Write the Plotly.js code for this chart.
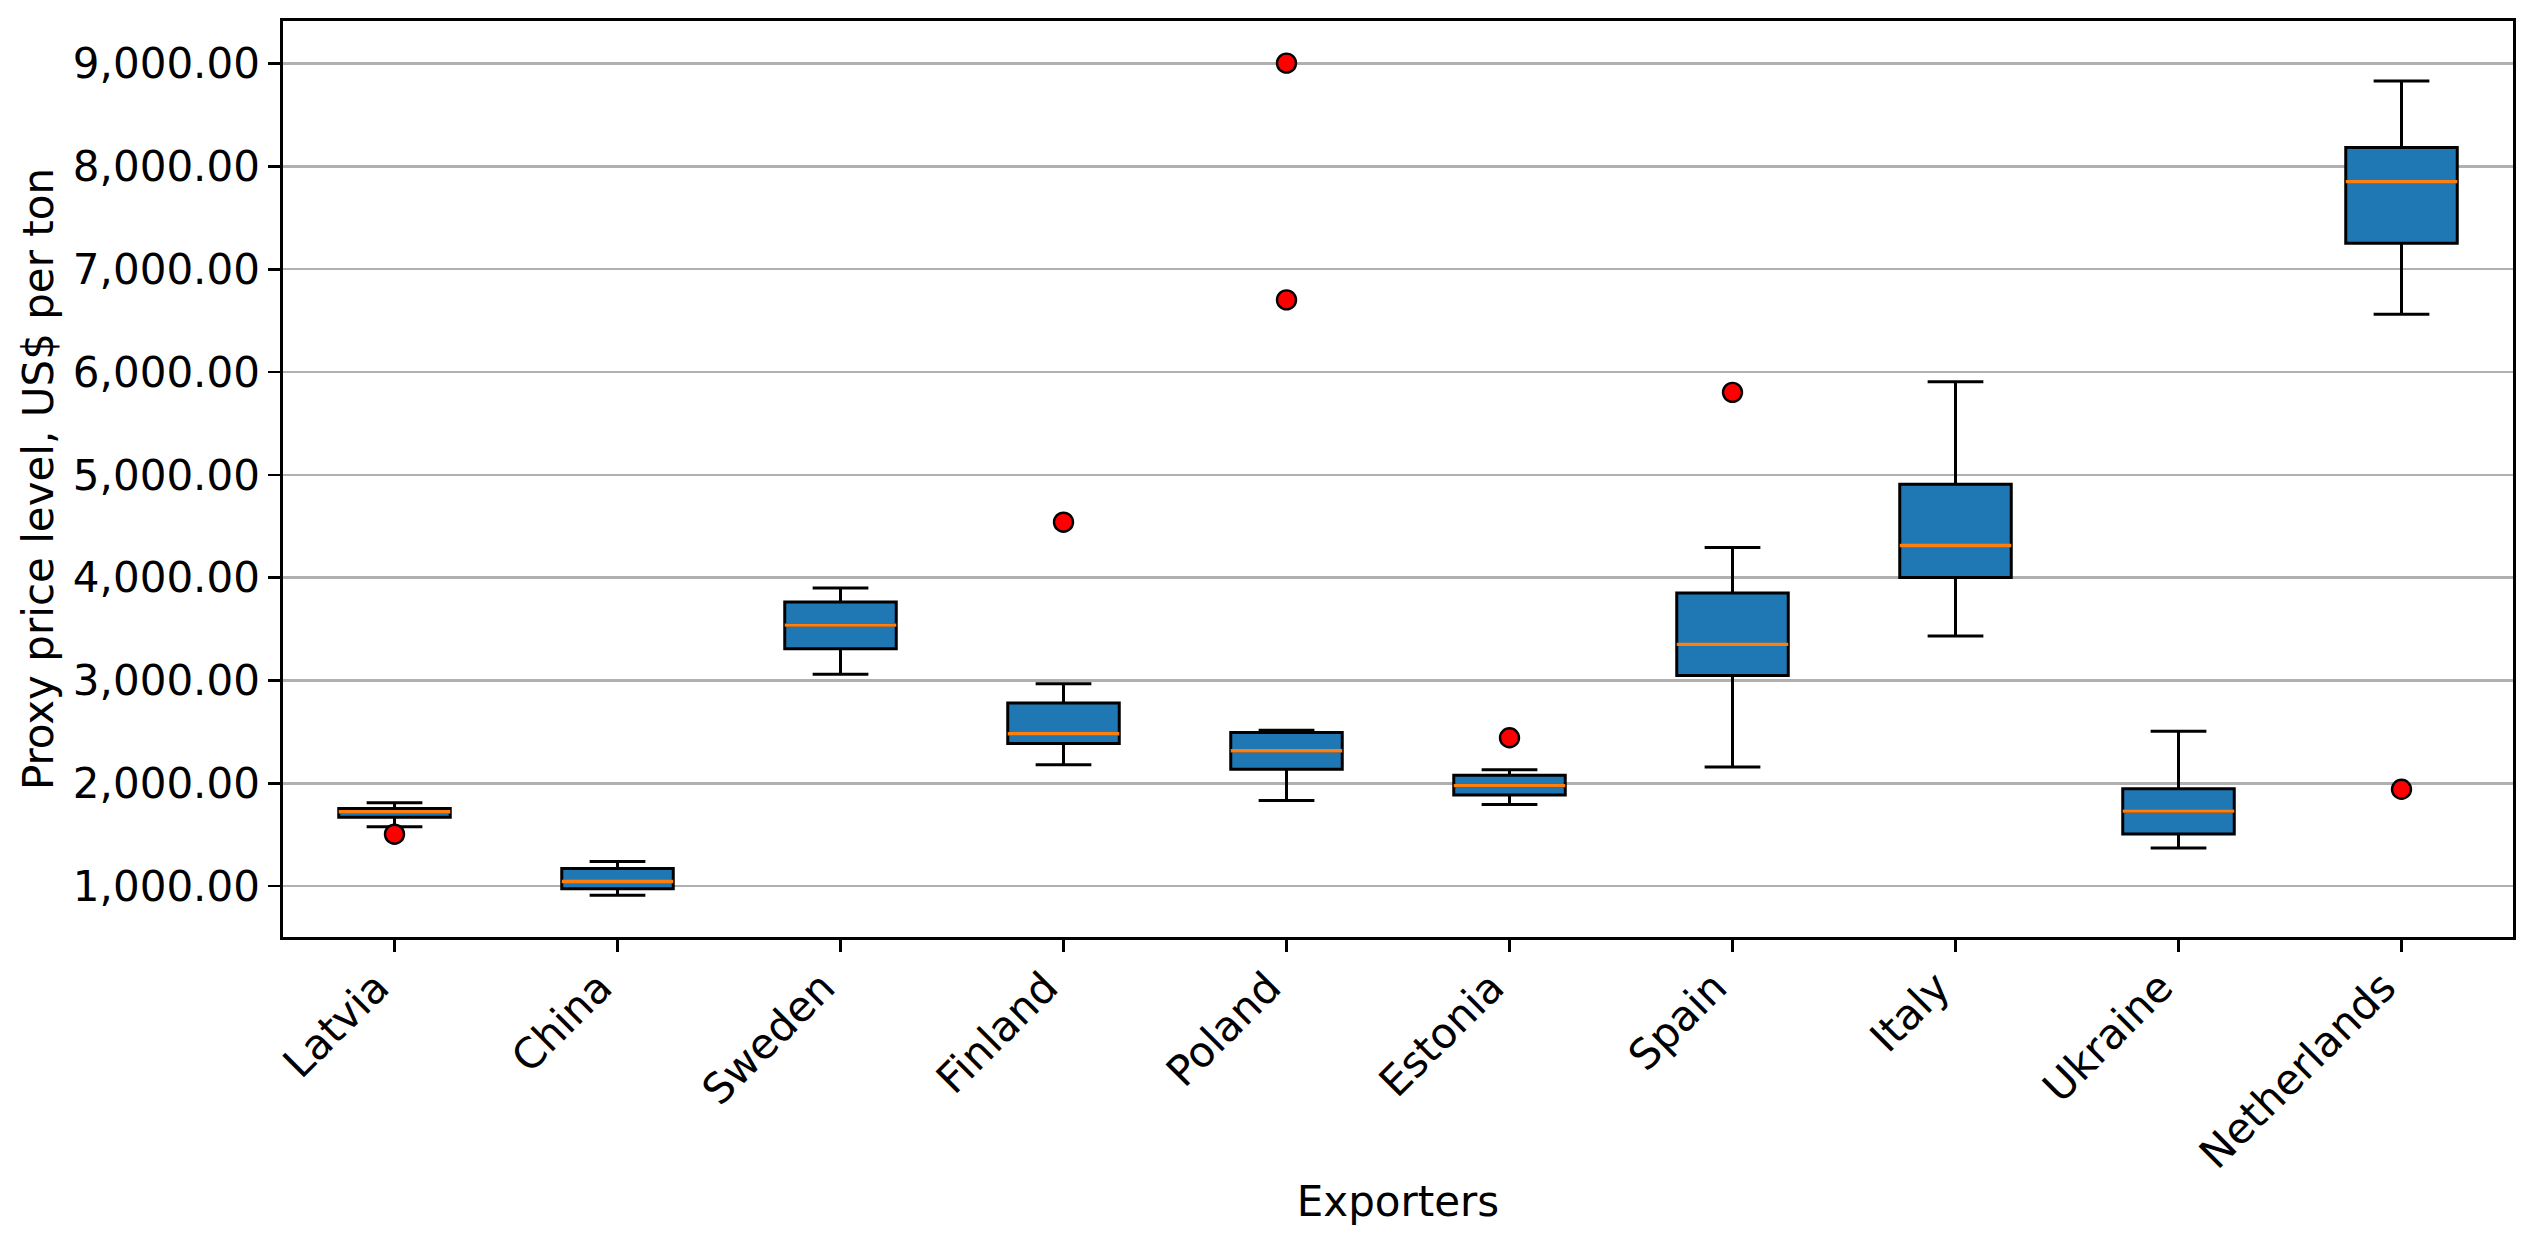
<!DOCTYPE html>
<html>
<head>
<meta charset="utf-8">
<script src="https://cdn.plot.ly/plotly-3.0.1.min.js"></script>
<style>
  html, body { margin: 0; padding: 0; background: #ffffff; }
  #chart { width: 2534px; height: 1243px; }
</style>
</head>
<body>
<div id="chart"></div>
<script>
// Proxy price level per exporter (US$ per ton): box statistics
const categories   = ['Latvia', 'China', 'Sweden', 'Finland', 'Poland', 'Estonia', 'Spain', 'Italy', 'Ukraine', 'Netherlands'];
const lowerWhisker = [1577,  910, 3062, 2181, 1832, 1793, 2159, 3432, 1370, 6563];
const q1Values     = [1671,  974, 3308, 2388, 2136, 1887, 3049, 4003, 1507, 7253];
const medianValues = [1723, 1045, 3539, 2482, 2317, 1977, 3351, 4313, 1729, 7853];
const q3Values     = [1755, 1171, 3763, 2780, 2495, 2078, 3850, 4909, 1946, 8184];
const upperWhisker = [1810, 1239, 3899, 2968, 2515, 2133, 4293, 5907, 2506, 8832];

// Outliers: exporter name and value
const outlierNames  = ['Latvia', 'Finland', 'Poland', 'Poland', 'Estonia', 'Spain', 'Netherlands'];
const outlierValues = [1505, 4540, 9005, 6702, 2443, 5803, 1942];

// Y-axis ticks
const yTicks = [1000, 2000, 3000, 4000, 5000, 6000, 7000, 8000, 9000];

const boxWidth = 0.5;
const positions = categories.map((c, i) => i + 1);

const boxTrace = {
  type: 'box',
  x: positions,
  q1: q1Values,
  median: medianValues,
  q3: q3Values,
  lowerfence: lowerWhisker,
  upperfence: upperWhisker,
  width: boxWidth,
  whiskerwidth: 0.5,
  boxpoints: false,
  fillcolor: '#1f77b4',
  line: { color: '#000000', width: 3 },
  hoverinfo: 'skip',
  showlegend: false
};

// Orange median segments spanning each box
const medX = [], medY = [];
positions.forEach((p, i) => {
  medX.push(p - boxWidth / 2, p + boxWidth / 2, null);
  medY.push(medianValues[i], medianValues[i], null);
});
const medianTrace = {
  type: 'scatter',
  mode: 'lines',
  x: medX,
  y: medY,
  line: { color: '#ff7f0e', width: 3.4 },
  hoverinfo: 'skip',
  showlegend: false
};

const outlierTrace = {
  type: 'scatter',
  mode: 'markers',
  x: outlierNames.map(n => categories.indexOf(n) + 1),
  y: outlierValues,
  marker: { color: '#ff0000', size: 19, line: { color: '#000000', width: 2.4 } },
  hoverinfo: 'skip',
  showlegend: false
};

const font = { family: 'DejaVu Sans, sans-serif', size: 42, color: '#000000' };

const layout = {
  width: 2534,
  height: 1243,
  paper_bgcolor: '#ffffff',
  plot_bgcolor: '#ffffff',
  font: font,
  margin: { l: 283, r: 21, t: 21, b: 306, pad: 0 },
  showlegend: false,
  xaxis: {
    type: 'linear',
    range: [0.5, 10.5],
    tickmode: 'array',
    tickvals: positions,
    ticktext: categories,
    tickangle: -45,
    ticklabelshift: -18,
    ticklabelstandoff: -6,
    ticks: 'outside',
    ticklen: 12,
    tickwidth: 2.7,
    tickcolor: '#000000',
    showgrid: false,
    zeroline: false,
    showline: true,
    linecolor: '#000000',
    linewidth: 2.7,
    mirror: true,
    tickfont: font,
    title: { text: 'Exporters', font: font, standoff: 10 }
  },
  yaxis: {
    range: [505, 9415],
    tickmode: 'array',
    tickvals: yTicks,
    tickformat: ',.2f',
    ticks: 'outside',
    ticklen: 12,
    tickwidth: 2.7,
    tickcolor: '#000000',
    showgrid: true,
    gridcolor: '#b0b0b0',
    gridwidth: 2.4,
    zeroline: false,
    showline: true,
    linecolor: '#000000',
    linewidth: 2.7,
    mirror: true,
    tickfont: font,
    title: { text: 'Proxy price level, US$ per ton', font: font, standoff: 7 }
  }
};

Plotly.newPlot('chart', [boxTrace, medianTrace, outlierTrace], layout, { staticPlot: true, displayModeBar: false });
</script>
</body>
</html>
